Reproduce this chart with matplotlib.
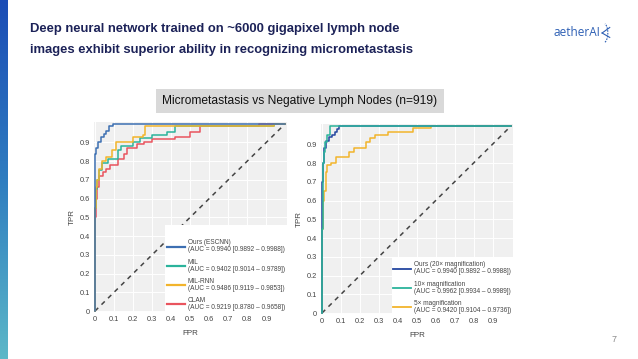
import numpy as np
import matplotlib
matplotlib.use("Agg")
import matplotlib.pyplot as plt
from matplotlib.colors import LinearSegmentedColormap
from matplotlib.patches import Rectangle

plt.rcParams['font.family'] = ['Liberation Sans', 'DejaVu Sans']

# ---------------- data ----------------
title_lines = ["Deep neural network trained on ~6000 gigapixel lymph node",
               "images exhibit superior ability in recognizing micrometastasis"]
subtitle = "Micrometastasis vs Negative Lymph Nodes (n=919)"
ticks = [0, 0.1, 0.2, 0.3, 0.4, 0.5, 0.6, 0.7, 0.8, 0.9]
tick_labels = ["0", "0.1", "0.2", "0.3", "0.4", "0.5", "0.6", "0.7", "0.8", "0.9"]

# Left panel: model comparison
ours_fpr = [0, 0, 0.005, 0.014, 0.03, 0.045, 0.057, 0.075, 0.093, 1.0]
ours_tpr = [0, 0.84, 0.87, 0.90, 0.93, 0.945, 0.96, 0.985, 1.0, 1.0]
mil_fpr = [0, 0, 0.005, 0.01, 0.02, 0.035, 0.07, 0.12, 0.135, 0.20, 0.235, 0.30, 0.38, 0.42, 0.94, 1.0]
mil_tpr = [0, 0.55, 0.65, 0.70, 0.75, 0.79, 0.81, 0.86, 0.88, 0.90, 0.925, 0.94, 0.955, 0.985, 1.0, 1.0]
rnn_fpr = [0, 0, 0.005, 0.01, 0.02, 0.035, 0.057, 0.09, 0.11, 0.19, 0.20, 0.25, 0.265, 0.94, 1.0]
rnn_tpr = [0, 0.55, 0.66, 0.70, 0.76, 0.80, 0.82, 0.86, 0.90, 0.90, 0.93, 0.94, 0.985, 1.0, 1.0]
clam_fpr = [0, 0, 0.005, 0.01, 0.02, 0.04, 0.06, 0.08, 0.12, 0.15, 0.17, 0.22, 0.26, 0.30, 0.42, 0.50, 0.55, 0.86, 1.0]
clam_tpr = [0, 0.50, 0.60, 0.66, 0.72, 0.74, 0.76, 0.78, 0.81, 0.84, 0.87, 0.89, 0.90, 0.92, 0.93, 0.955, 0.985, 1.0, 1.0]
left_names = ["Ours (ESCNN)\n(AUC = 0.9940 [0.9892 \u2013 0.9988])",
              "MIL\n(AUC = 0.9402 [0.9014 \u2013 0.9789])",
              "MIL-RNN\n(AUC = 0.9486 [0.9119 \u2013 0.9853])",
              "CLAM\n(AUC = 0.9219 [0.8780 \u2013 0.9658])"]

# Right panel: magnification comparison
m20_fpr = [0, 0, 0.005, 0.01, 0.02, 0.035, 0.055, 0.07, 0.08, 0.09, 1.0]
m20_tpr = [0, 0.70, 0.80, 0.88, 0.92, 0.94, 0.95, 0.965, 0.98, 1.0, 1.0]
m10_fpr = [0, 0, 0.004, 0.008, 0.012, 0.018, 0.025, 0.043, 1.0]
m10_tpr = [0, 0.45, 0.65, 0.80, 0.86, 0.91, 0.95, 1.0, 1.0]
m5_fpr = [0, 0, 0.005, 0.01, 0.02, 0.026, 0.05, 0.073, 0.143, 0.17, 0.23, 0.255, 0.28, 0.35, 0.48, 0.577, 1.0]
m5_tpr = [0, 0.45, 0.60, 0.65, 0.75, 0.79, 0.80, 0.83, 0.86, 0.88, 0.91, 0.933, 0.947, 0.965, 0.985, 1.0, 1.0]
right_names = ["Ours (20\u00d7 magnification)\n(AUC = 0.9940 [0.9892 \u2013 0.9988])",
               "10\u00d7 magnification\n(AUC = 0.9962 [0.9934 \u2013 0.9989])",
               "5\u00d7 magnification\n(AUC = 0.9420 [0.9104 \u2013 0.9736])"]

# ---------------- figure ----------------
W, H = 638, 359
fig = plt.figure(figsize=(W / 100, H / 100), dpi=100)
fig.patch.set_facecolor("white")

# gradient side bar
bar = fig.add_axes([0, 0, 8 / W, 1])
cmap = LinearSegmentedColormap.from_list("g", ["#1b4db6", "#2f7dc0", "#5cb8c8"])
bar.imshow(np.linspace(0, 1, 256).reshape(-1, 1), aspect="auto", cmap=cmap)
bar.axis("off")

navy = "#1c2258"
fig.text(30 / W, 1 - 29 / H, title_lines[0], fontsize=9.4, fontweight="bold",
         color=navy, va="center", ha="left")
fig.text(30 / W, 1 - 50 / H, title_lines[1], fontsize=9.4, fontweight="bold",
         color=navy, va="center", ha="left")

# logo
fig.text(553 / W, 1 - 32 / H, "aetherAI", fontsize=8.5, color="#2d5fb4",
         va="center", ha="left", family=["Open Sans", "DejaVu Sans"])
lg = fig.add_axes([597 / W, 1 - 44 / H, 14 / W, 22 / H])
t = np.linspace(-1.2, 1.2, 50)
lg.plot(0.5 + 0.35 * np.cos(t), 0.5 + 0.45 * np.sin(t), color="#2d5fb4", lw=0.8, ls=(0, (1.5, 1)))
lg.plot([0.4, 1.0], [0.5, 0.75], color="#2d5fb4", lw=0.8)
lg.plot([0.4, 1.0], [0.5, 0.3], color="#2d5fb4", lw=0.8)
lg.set_xlim(0, 1.1); lg.set_ylim(0, 1); lg.axis("off")

# subtitle box
fig.text(300 / W, 1 - 101 / H, subtitle, fontsize=8.65, color="#111111",
         ha="center", va="center",
         bbox=dict(boxstyle="square,pad=0.5", facecolor="#d9d9d9", edgecolor="none"))

fig.text(614 / W, 1 - 340 / H, "7", fontsize=6.5, color="#8a8a8a", ha="center", va="center")


def style_axes(ax):
    ax.set_facecolor("#f0f0f0")
    for s in ax.spines.values():
        s.set_visible(False)
    ax.set_xlim(-0.005, 1.008)
    ax.set_ylim(-0.005, 1.008)
    ax.set_xticks(ticks)
    ax.set_xticklabels(tick_labels)
    ax.set_yticks(ticks)
    ax.set_yticklabels(tick_labels)
    ax.tick_params(length=0, labelsize=5.3, labelcolor="#444444", pad=3)
    ax.grid(True, color="white", lw=0.7)
    ax.set_axisbelow(True)
    ax.set_xlabel("FPR", fontsize=5.8, color="#444444", labelpad=5)
    ax.set_ylabel("TPR", fontsize=5.8, color="#444444", labelpad=3)
    ax.plot([0, 1], [0, 1], color="#444444", lw=1.1, ls=(0, (3, 3)))


def add_legend(ax, handles, rect, anchor, lw):
    ax.add_patch(Rectangle((rect[0], 0), 1 - rect[0], rect[1], transform=ax.transAxes,
                           facecolor="white", edgecolor="none", zorder=6))
    leg = ax.legend(handles=handles, loc="upper left", bbox_to_anchor=anchor,
                    fontsize=4.7, frameon=False, borderaxespad=0, borderpad=0,
                    handlelength=2.8, labelspacing=0.85, handletextpad=0.35)
    leg.set_zorder(7)
    for txt in leg.get_texts():
        txt.set_color("#444444")
        txt.set_linespacing(0.95)
    for ln in leg.get_lines():
        ln.set_linewidth(lw)
    return leg


# left panel
axL = fig.add_axes([94 / W, 1 - 312 / H, 193 / W, 190 / H])
style_axes(axL)
cols_left = ["#3d6fb2", "#2bb39b", "#f2b42c", "#e9545e"]
series_left = [(ours_fpr, ours_tpr), (mil_fpr, mil_tpr), (rnn_fpr, rnn_tpr), (clam_fpr, clam_tpr)]
handles = []
for (fx, ty), c, name in zip(series_left, cols_left, left_names):
    h, = axL.plot(fx, ty, drawstyle="steps-post", color=c, lw=1.1, label=name)
    handles.append(h)
for h, z in zip(handles, [5, 3, 4, 2]):
    h.set_zorder(z)
add_legend(axL, handles, ((165 - 94) / 193, (312 - 225) / 190),
           ((167 - 94) / 193, (312 - 239.5) / 190), 1.6)

# right panel
axR = fig.add_axes([321 / W, 1 - 314 / H, 192 / W, 190 / H])
style_axes(axR)
cols_right = ["#2446a0", "#2bb39b", "#f2b42c"]
series_right = [(m20_fpr, m20_tpr), (m10_fpr, m10_tpr), (m5_fpr, m5_tpr)]
handlesR = []
for (fx, ty), c, name in zip(series_right, cols_right, right_names):
    h, = axR.plot(fx, ty, drawstyle="steps-post", color=c, lw=1.1, label=name)
    handlesR.append(h)
for h, z in zip(handlesR, [3, 4, 2]):
    h.set_zorder(z)
add_legend(axR, handlesR, ((392 - 321) / 192, (314 - 257) / 190),
           ((393 - 321) / 192, (314 - 261.5) / 190), 1.3)

fig.savefig("out.png", dpi=100, facecolor="white")
